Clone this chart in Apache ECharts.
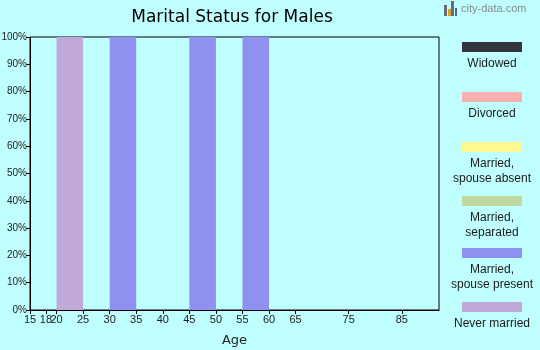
<!DOCTYPE html>
<html><head><meta charset="utf-8">
<script src="https://cdn.jsdelivr.net/npm/echarts@6/dist/echarts.min.js"></script>
<style>html,body{margin:0;padding:0;background:#bfffff}#c{width:540px;height:350px}</style>
</head><body><div id="c"></div>
<script>
const ageStarts = [15,18,20,25,30,35,40,45,50,55,60,65,75,85];
const ageEnds   = [18,20,25,30,35,40,45,50,55,60,65,75,85,92];
const xTickLabels = [15,18,20,25,30,35,40,45,50,55,60,65,75,85];
const categories = ['Never married','Married, spouse present','Married, separated','Married, spouse absent','Divorced','Widowed'];
const colors = ['#c0a8d8','#9090f0','#c0d8a0','#fff890','#f8b0b0','#33333b'];
const neverMarried   = [0,0,100,0,0,0,0,0,0,0,0,0,0,0];
const spousePresent  = [0,0,0,0,100,0,0,100,0,100,0,0,0,0];
const separated      = [0,0,0,0,0,0,0,0,0,0,0,0,0,0];
const spouseAbsent   = [0,0,0,0,0,0,0,0,0,0,0,0,0,0];
const divorced       = [0,0,0,0,0,0,0,0,0,0,0,0,0,0];
const widowed        = [0,0,0,0,0,0,0,0,0,0,0,0,0,0];
const values = [neverMarried, spousePresent, separated, spouseAbsent, divorced, widowed];

const chart = echarts.init(document.getElementById('c'));
const series = categories.map((name, si) => {
  const data = ageStarts.map((s, i) => {
    let base = 0;
    for (let k = 0; k < si; k++) base += values[k][i];
    return [s, ageEnds[i], base, base + values[si][i]];
  }).filter(d => d[3] > d[2]);
  return {
    type: 'custom', name, data,
    renderItem: (params, api) => {
      const p0 = api.coord([api.value(0), api.value(3)]);
      const p1 = api.coord([api.value(1), api.value(2)]);
      return {type:'rect', shape:{x:p0[0], y:p0[1], width:p1[0]-p0[0], height:p1[1]-p0[1]}, style:{fill:colors[si]}};
    }
  };
});

const legendOrder = categories.map((n,i)=>i).reverse();
const legendTops = [42, 92, 142, 196, 248, 302];
const graphic = [];
legendOrder.forEach((ci, j) => {
  const y = legendTops[j];
  graphic.push({type:'rect', shape:{x:462,y:y,width:60,height:10}, style:{fill:colors[ci]}, z:10});
  graphic.push({type:'text', x:492, y:y+14, style:{text:categories[ci].replace(', ', ',\n'), fill:'#1a1a1a', font:'12px "Liberation Sans", Arial', align:'center', verticalAlign:'top', lineHeight:15}, z:10});
});
graphic.push({type:'text', x:461, y:3, style:{text:'city-data.com', fill:'#888', font:'11px "Liberation Sans", Arial'}});
graphic.push({type:'rect', shape:{x:444,y:5,width:3,height:11}, style:{fill:'#6a6a70'}});
graphic.push({type:'rect', shape:{x:448,y:9,width:3,height:7}, style:{fill:'#d0a030'}});
graphic.push({type:'rect', shape:{x:451,y:1,width:3,height:15}, style:{fill:'#6a6a70'}});
graphic.push({type:'rect', shape:{x:455,y:8,width:2,height:8}, style:{fill:'#5060a0'}});

chart.setOption({
  backgroundColor:'#bfffff',
  animation:false,
  title:{text:'Marital Status for Males', left:227, top:4, textAlign:'center', textStyle:{fontSize:17, fontWeight:'normal', fontFamily:'DejaVu Sans', color:'#000'}},
  grid:{left:30, right:101, top:37, bottom:40, outerBoundsMode:'none', containLabel:false, show:true, borderColor:'#000', borderWidth:1, backgroundColor:'transparent'},
  xAxis:{type:'value', min:15, max:92, name:'Age', nameLocation:'middle', nameGap:24,
    nameTextStyle:{fontFamily:'DejaVu Sans', fontSize:13, color:'#222'},
    axisLine:{show:true, lineStyle:{color:'#000'}}, splitLine:{show:false},
    axisTick:{show:true, customValues:xTickLabels, length:4, lineStyle:{color:'#000'}},
    axisLabel:{customValues:xTickLabels, fontFamily:'Liberation Sans', fontSize:11, color:'#222', margin:4}},
  yAxis:{type:'value', min:0, max:100, interval:10,
    axisLine:{show:true, lineStyle:{color:'#000'}}, splitLine:{show:false},
    axisTick:{show:true, length:4, lineStyle:{color:'#000'}},
    axisLabel:{formatter:'{value}%', fontFamily:'Liberation Sans', fontSize:10, color:'#222', margin:3}},
  series,
  graphic
});
</script></body></html>
